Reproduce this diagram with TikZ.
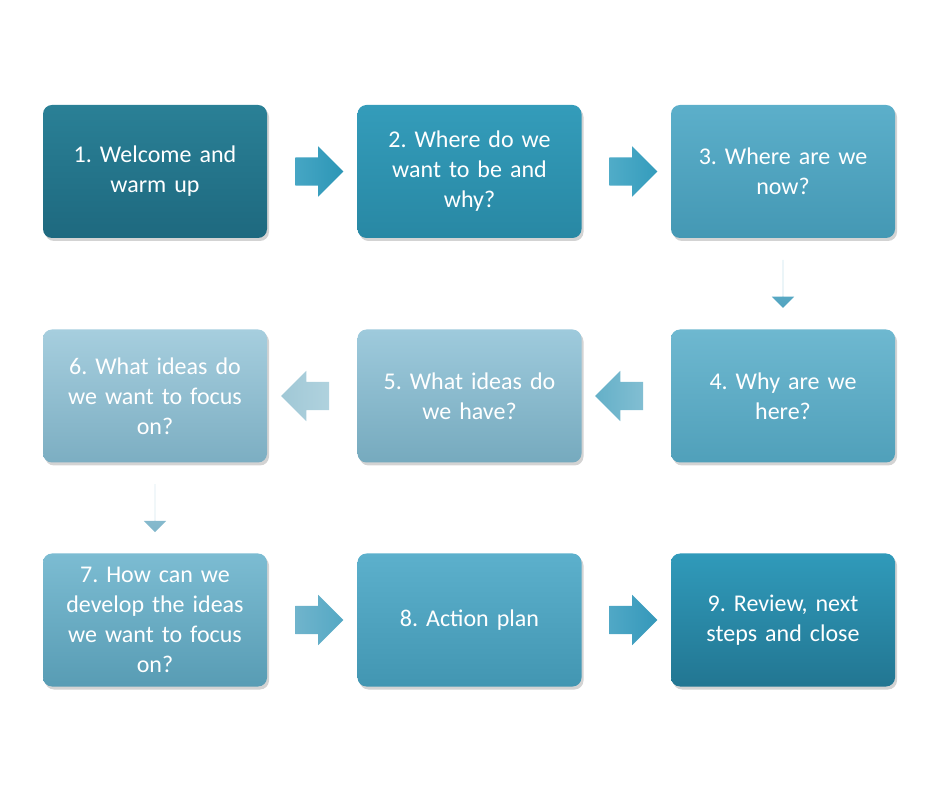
\documentclass[tikz,border=0pt]{standalone}
\usepackage{fontspec}
\setmainfont{Carlito}
\frenchspacing
\usetikzlibrary{shapes.arrows, shadows, calc}

\begin{document}
\begin{tikzpicture}[
    x=1pt, y=1pt,
    stepbox/.style={
        rounded corners=9pt, minimum width=224pt, minimum height=133pt,
        text width=210pt, align=center, text=white,
        font=\fontsize{24}{30}\selectfont,
        drop shadow={shadow xshift=2pt, shadow yshift=-3pt, opacity=.35, fill=gray}
    },
    barrow/.style={
        single arrow, single arrow head extend=11pt, inner xsep=0pt, inner ysep=14pt,
        minimum height=48pt, single arrow head indent=0pt
    },
]
    \useasboundingbox (0,0) rectangle (940,788);

    \node[stepbox, top color={rgb,255:red,42;green,128;blue,150}, bottom color={rgb,255:red,30;green,105;blue,127}] (b1) at (155,616.5) {1. Welcome and\\warm up};
    \node[stepbox, top color={rgb,255:red,52;green,156;blue,186}, bottom color={rgb,255:red,40;green,136;blue,164}] (b2) at (469.5,616.5) {2. Where do we\\want to be and\\why?};
    \node[stepbox, top color={rgb,255:red,92;green,175;blue,202}, bottom color={rgb,255:red,68;green,152;blue,180}] (b3) at (783,616.5) {3. Where are we\\now?};
    \node[stepbox, top color={rgb,255:red,110;green,184;blue,208}, bottom color={rgb,255:red,80;green,160;blue,186}] (b4) at (783,392) {4. Why are we\\here?};
    \node[stepbox, top color={rgb,255:red,158;green,202;blue,220}, bottom color={rgb,255:red,118;green,170;blue,190}] (b5) at (469.5,392) {5. What ideas do\\we have?};
    \node[stepbox, top color={rgb,255:red,166;green,206;blue,222}, bottom color={rgb,255:red,124;green,174;blue,194}] (b6) at (155,392) {6. What ideas do\\we want to focus\\on?};
    \node[stepbox, top color={rgb,255:red,124;green,188;blue,210}, bottom color={rgb,255:red,88;green,156;blue,180}] (b7) at (155,168) {7. How can we\\develop the ideas\\we want to focus\\on?};
    \node[stepbox, top color={rgb,255:red,92;green,176;blue,204}, bottom color={rgb,255:red,66;green,150;blue,178}] (b8) at (469.5,168) {8. Action plan};
    \node[stepbox, top color={rgb,255:red,48;green,154;blue,186}, bottom color={rgb,255:red,34;green,118;blue,146}] (b9) at (783,168) {9. Review, next\\steps and close};

    \node[barrow, left color={rgb,255:red,70;green,166;blue,196}, right color={rgb,255:red,44;green,150;blue,182}] (a12) at ($(b1.east)!.5!(b2.west)$) {};
    \node[barrow, left color={rgb,255:red,80;green,172;blue,200}, right color={rgb,255:red,52;green,156;blue,188}] (a23) at ($(b2.east)!.5!(b3.west)$) {};
    \node[barrow, shape border rotate=270, top color={rgb,255:red,106;green,180;blue,206}, bottom color={rgb,255:red,82;green,164;blue,192}] (a34) at ($(b3.south)!.5!(b4.north)$) {};
    \node[barrow, shape border rotate=180, left color={rgb,255:red,100;green,176;blue,200}, right color={rgb,255:red,130;green,190;blue,210}] (a45) at ($(b4.west)!.5!(b5.east)$) {};
    \node[barrow, shape border rotate=180, left color={rgb,255:red,160;green,200;blue,214}, right color={rgb,255:red,176;green,210;blue,222}] (a56) at ($(b5.west)!.5!(b6.east)$) {};
    \node[barrow, shape border rotate=270, top color={rgb,255:red,150;green,196;blue,214}, bottom color={rgb,255:red,128;green,182;blue,202}] (a67) at ($(b6.south)!.5!(b7.north)$) {};
    \node[barrow, left color={rgb,255:red,112;green,180;blue,204}, right color={rgb,255:red,84;green,168;blue,196}] (a78) at ($(b7.east)!.5!(b8.west)$) {};
    \node[barrow, left color={rgb,255:red,80;green,168;blue,198}, right color={rgb,255:red,52;green,152;blue,186}] (a89) at ($(b8.east)!.5!(b9.west)$) {};
\end{tikzpicture}
\end{document}
